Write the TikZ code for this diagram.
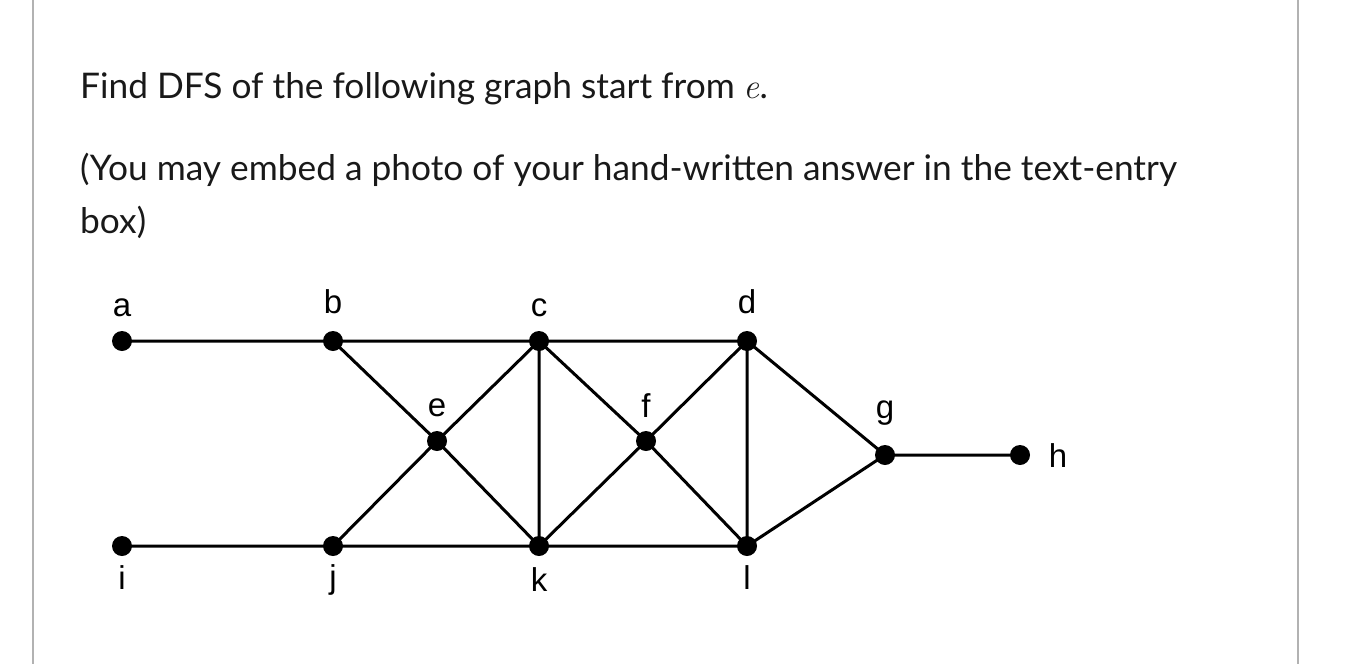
\documentclass[tikz,border=0pt]{standalone}
\usepackage{fontspec}
\setmainfont{Lato}
\newfontfamily\lab{Liberation Sans}
\begin{document}
\begin{tikzpicture}[x=1pt,y=-1pt,
  dot/.style={circle,fill=black,inner sep=0pt,minimum size=20pt},
  lbl/.style={font=\lab\fontsize{33}{36}\selectfont,inner sep=0pt},
  edge/.style={line width=3pt}]
\useasboundingbox (0,0) rectangle (1370,664);
\draw[gray!60,line width=1.2pt] (33,0) -- (33,664) (1298,0) -- (1298,664);
\node[anchor=base west,inner sep=0pt,font=\fontsize{35.3}{40}\selectfont,text=black!90] (t1) at (80,98) {Find DFS of the following graph start from {\fontspec{Latin Modern Roman}\itshape e}.};
\node[anchor=base west,inner sep=0pt,font=\fontsize{35.3}{40}\selectfont,text=black!90] (t2) at (80,180) {(You may embed a photo of your hand-written answer in the text-entry};
\node[anchor=base west,inner sep=0pt,font=\fontsize{35.3}{40}\selectfont,text=black!90] (t3) at (80,233) {box)};
\node[dot] (a) at (122,341) {};
\node[dot] (b) at (333,341) {};
\node[dot] (c) at (539,341) {};
\node[dot] (d) at (747,341) {};
\node[dot] (e) at (437,441) {};
\node[dot] (f) at (646,441) {};
\node[dot] (g) at (885,455) {};
\node[dot] (h) at (1020,455) {};
\node[dot] (i) at (122,546) {};
\node[dot] (j) at (333,546) {};
\node[dot] (k) at (539,546) {};
\node[dot] (l) at (747,546) {};
\node[lbl] (la) at (122,308) {a};
\node[lbl] (lb) at (333,302) {b};
\node[lbl] (lc) at (539,308) {c};
\node[lbl] (ld) at (747,302) {d};
\node[lbl] (le) at (437,408) {e};
\node[lbl] (lf) at (646,406) {f};
\node[lbl] (lg) at (885,413) {g};
\node[lbl] (lh) at (1058,456) {h};
\node[lbl] (li) at (122,578) {i};
\node[lbl] (lj) at (333,580) {j};
\node[lbl] (lk) at (539,580) {k};
\node[lbl] (ll) at (747,578) {l};
\draw[edge] (a.center)--(b.center) (b.center)--(c.center) (c.center)--(d.center)
 (b.center)--(e.center) (e.center)--(k.center) (e.center)--(j.center) (e.center)--(c.center)
 (c.center)--(k.center) (c.center)--(f.center) (f.center)--(l.center) (f.center)--(k.center)
 (f.center)--(d.center) (d.center)--(l.center) (d.center)--(g.center) (g.center)--(l.center)
 (g.center)--(h.center) (i.center)--(j.center) (j.center)--(k.center) (k.center)--(l.center);
\end{tikzpicture}
\end{document}
